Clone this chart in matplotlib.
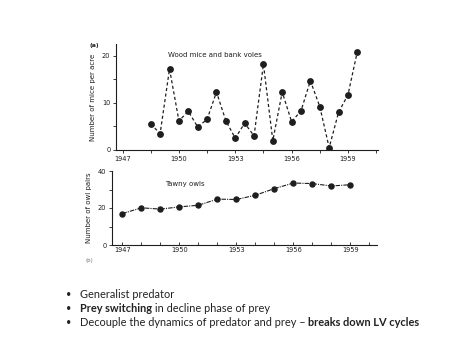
import numpy as np
import matplotlib.pyplot as plt
from matplotlib.ticker import MultipleLocator

# (a) wood mice and bank voles, sampled twice a year
mice_years = [1948.5, 1949.0, 1949.5, 1950.0, 1950.5, 1951.0, 1951.5, 1952.0,
              1952.5, 1953.0, 1953.5, 1954.0, 1954.5, 1955.0, 1955.5, 1956.0,
              1956.5, 1957.0, 1957.5, 1958.0, 1958.5, 1959.0, 1959.5]
mice_per_acre = [5.5, 3.5, 17.2, 6.2, 8.2, 4.9, 6.5, 12.3, 6.2, 2.5, 5.7, 3.0,
                 18.2, 2.0, 12.3, 6.0, 8.3, 14.7, 9.2, 0.5, 8.0, 11.7, 20.9]

# (b) tawny owls, yearly
owl_years = [1947, 1948, 1949, 1950, 1951, 1952, 1953, 1954, 1955, 1956,
             1957, 1958, 1959]
owl_pairs = [17.0, 20.1, 19.4, 20.6, 21.5, 24.8, 24.6, 26.9, 30.5, 33.5,
             33.2, 31.9, 32.6]

year_ticks = [1947, 1950, 1953, 1956, 1959]
bullets = [
    [("Generalist predator", "normal")],
    [("Prey switching", "bold"), (" in decline phase of prey", "normal")],
    [("Decouple the dynamics of predator and prey \u2013 ", "normal"),
     ("breaks down LV cycles", "bold")],
]

W, H = 474, 355
ink = "#1e1e1e"
fig = plt.figure(figsize=(W / 100, H / 100), dpi=100)
fig.patch.set_facecolor("white")


def px_axes(left, top, right, bottom):
    return fig.add_axes([left / W, 1 - bottom / H, (right - left) / W, (bottom - top) / H])


def style(ax):
    for s in ["top", "right"]:
        ax.spines[s].set_visible(False)
    for s in ["left", "bottom"]:
        ax.spines[s].set_color(ink)
        ax.spines[s].set_linewidth(0.8)
    ax.tick_params(labelsize=4.8, colors=ink, length=2.5, width=0.6, pad=1.5)
    ax.tick_params(which="minor", length=2.5, width=0.6, colors=ink)
    ax.set_xticks(year_ticks)
    ax.set_xticklabels([str(y) for y in year_ticks])


# top panel
ax1 = px_axes(116, 44, 378, 150)
ax1.plot(mice_years, mice_per_acre, color=ink, lw=0.9, ls=(0, (2.5, 2)),
         marker="o", ms=3.9, mfc=ink, mec=ink)
ax1.set_xlim(1946.65, 1960.6)
ax1.set_ylim(0, 22.5)
ax1.set_yticks([0, 10, 20])
ax1.yaxis.set_minor_locator(MultipleLocator(5))
ax1.xaxis.set_minor_locator(MultipleLocator(1.5))
style(ax1)
ax1.set_ylabel("Number of mice per acre", fontsize=5, color=ink, labelpad=4)
ax1.text(0.2, 0.88, "Wood mice and bank voles", transform=ax1.transAxes,
         fontsize=5, color=ink)
fig.text(90 / W, 1 - 47 / H, "(a)", fontsize=4.5, color=ink, fontweight="bold")

# bottom panel
ax2 = px_axes(112, 171, 377, 245)
ax2.plot(owl_years, owl_pairs, color=ink, lw=0.8, ls=(0, (4, 1, 1, 1)),
         marker="o", ms=3.6, mfc=ink, mec=ink)
ax2.set_xlim(1946.45, 1960.4)
ax2.set_ylim(0, 40)
ax2.set_yticks([0, 20, 40])
ax2.yaxis.set_minor_locator(MultipleLocator(10))
ax2.xaxis.set_minor_locator(MultipleLocator(1))
style(ax2)
ax2.tick_params(axis="x", which="both", direction="in")
ax2.set_ylabel("Number of owl pairs", fontsize=5, color=ink, labelpad=4)
ax2.text(0.2, 0.8, "Tawny owls", transform=ax2.transAxes, fontsize=5, color=ink)
fig.text(86 / W, 1 - 262 / H, "(b)", fontsize=4, color="#777777")

# bullet text below the figure
line_y = [295, 309, 323]
for y, parts in zip(line_y, bullets):
    fig.text(66 / W, 1 - y / H, "\u2022", fontsize=6.5, family="Lato",
             color="#222222", va="center")
    x = 80
    t = None
    for txt, weight in parts:
        if t is None:
            t = fig.text(x / W, 1 - y / H, txt, fontsize=7.9, family="Lato",
                         fontweight=weight, color="#222222", va="center")
        else:
            t = ax1.annotate(txt, xycoords=t, xy=(1, 0.5), va="center",
                             fontsize=7.9, family="Lato", fontweight=weight,
                             color="#222222", annotation_clip=False)

fig.savefig("out.png", dpi=100, facecolor="white")
